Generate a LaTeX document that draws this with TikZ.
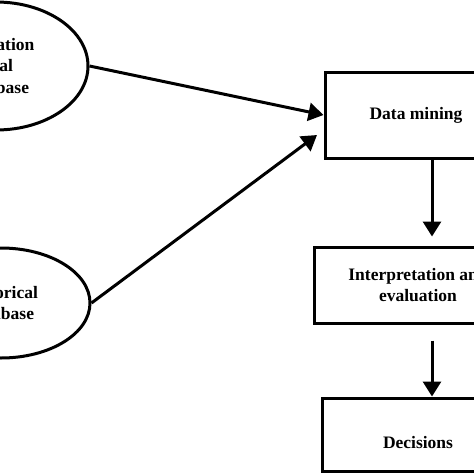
\documentclass[tikz,border=0pt]{standalone}
\usepackage{fontspec}
\setmainfont{Liberation Serif}
\usetikzlibrary{arrows.meta,shapes.geometric}

\begin{document}
\begin{tikzpicture}[x = 1pt, y = -1pt,
	 every node/.style = {font = \bfseries\fontsize{17.5}{21.5}\selectfont, align = center},
	 dbase/.style = {draw, ellipse, line width = 3pt, inner sep = 0pt},
	 stage/.style = {draw, rectangle, line width = 3pt, inner sep = 0pt},
	 flow/.style = {line width = 3pt, -{Triangle[length = 15pt, width = 18pt]}}]
	 \useasboundingbox (0, 0) rectangle (474, 474);
	 \clip (0, 0) rectangle (474, 474);
	 
	 % sources
	 \node[dbase, minimum width = 184, minimum height = 128] (oper) at (-4, 66) {Operation\\Real\\database};
	 \node[dbase, minimum width = 178, minimum height = 110] (hist) at (1, 303) {Historical\\database};
	 
	 % stages
	 \node[stage, minimum width = 182, minimum height = 86] (dm) at (416, 115) {Data mining};
	 \node[stage, minimum width = 208, minimum height = 76] (ie) at (418, 285) {Interpretation and\\evaluation};
	 \node[stage, minimum width = 192, minimum height = 73, text height = 27.6pt, text depth = 0pt] (dec) at (418, 434.5) {Decisions};
	 
	 \coordinate (axis) at (432, 0);
	 \coordinate (histend) at (317, 135);
	 
	 \draw[flow] (oper.east) -- (dm.west);
	 \draw[flow] (hist.east) -- (histend);
	 \draw[flow, shorten > = 9pt] (dm.south -| axis) -- (ie.north -| axis);
	 \draw[flow, shorten < = 16pt] (ie.south -| axis) -- (dec.north -| axis);
\end{tikzpicture}
\end{document}
